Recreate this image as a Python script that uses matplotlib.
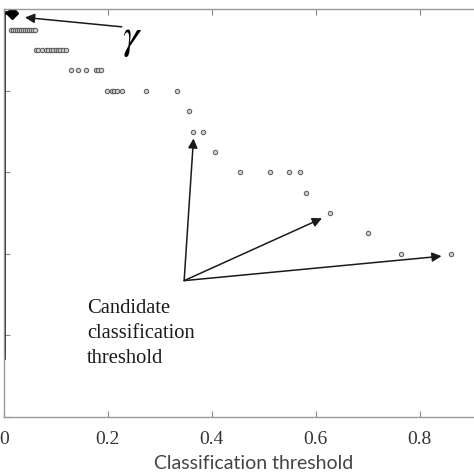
import matplotlib.pyplot as plt

# threshold curve (thick line ending in a diamond)
curve_x = [0.0, 0.0, 0.016]
curve_y = [0.145, 0.99, 0.99]

# candidate thresholds, row by row
pts_x = [0.014, 0.018, 0.022, 0.026, 0.030, 0.033, 0.037, 0.041, 0.045, 0.049, 0.052, 0.056, 0.060,
         0.062, 0.066, 0.073, 0.081, 0.086, 0.091, 0.095, 0.100, 0.104, 0.109, 0.114, 0.120,
         0.129, 0.143, 0.159, 0.177, 0.181, 0.188,
         0.199, 0.208, 0.213, 0.217, 0.227, 0.274, 0.334,
         0.357,
         0.365, 0.383,
         0.406,
         0.455, 0.513, 0.548, 0.570,
         0.581,
         0.628,
         0.701,
         0.764, 0.860]
pts_y = [0.95] * 13 + [0.90] * 12 + [0.85] * 6 + [0.80] * 7 + [0.75] + [0.70] * 2 + [0.65] \
    + [0.60] * 4 + [0.55] + [0.50] + [0.45] + [0.40] * 2

gamma_tail = (0.227, 0.957)
gamma_tip = (0.041, 0.980)
cand_origin = (0.347, 0.334)
cand_tips = [(0.365, 0.683), (0.612, 0.487), (0.842, 0.394)]

xticks = [0, 0.2, 0.4, 0.6, 0.8, 1.0]
xticklabels = ['0', '0.2', '0.4', '0.6', '0.8', '']
yticks = [0, 0.2, 0.4, 0.6, 0.8, 1.0]

fig = plt.figure(figsize=(4.74, 4.74), dpi=100)
ax = fig.add_axes([3.7 / 474, 57.3 / 474, 520 / 474, 407.4 / 474])

ax.plot(pts_x, pts_y, 'o', ms=3.2, mfc='#d0d0d0', mec='#5a5a5a', mew=0.7, ls='none')
ax.plot(curve_x, curve_y, color='black', lw=2.6, solid_joinstyle='round')
ax.plot(curve_x[-1:], curve_y[-1:], marker='D', ms=6, color='black')

arrow = dict(arrowstyle='-|>', color='#1a1a1a', lw=1.1, mutation_scale=14, shrinkA=0, shrinkB=0)
ax.annotate('', xy=gamma_tip, xytext=gamma_tail, arrowprops=arrow)
for tip in cand_tips:
    ax.annotate('', xy=tip, xytext=cand_origin, arrowprops=arrow)

ax.text(0.247, 0.929, r'$\gamma$', fontsize=30, ha='center', va='center', math_fontfamily='stix')
ax.text(0.160, 0.289, 'Candidate\nclassification\nthreshold', fontsize=14.8,
        family='Liberation Serif', va='top', ha='left', linespacing=1.42, color='#1a1a1a')

ax.set_xlim(0, 1)
ax.set_ylim(0, 1)
ax.set_xticks(xticks)
ax.set_xticklabels(xticklabels, family='Liberation Serif', fontsize=14, color='#333333')
ax.set_yticks(yticks)
ax.set_yticklabels([])
ax.tick_params(direction='in', length=4, width=0.8, color='#888888', top=True, right=True, pad=10)
for s in ax.spines.values():
    s.set_color('#999999')
    s.set_linewidth(1.0)
ax.set_xlabel('Classification threshold', family='Lato', fontsize=14, color='#444444')
ax.xaxis.set_label_coords(250 / 520, -0.095)

fig.savefig('out.png', dpi=100)
